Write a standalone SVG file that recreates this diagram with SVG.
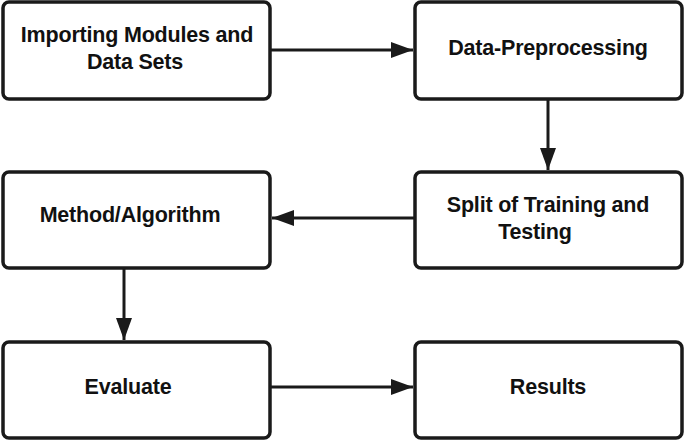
<svg xmlns="http://www.w3.org/2000/svg" width="685" height="441" viewBox="0 0 685 441">
<style>
.b{fill:#fff;stroke:#1a1a1a;stroke-width:3.5}
.t{font-family:"Liberation Sans",Arial,sans-serif;font-weight:bold;font-size:21.5px;fill:#111;text-anchor:middle;letter-spacing:-0.2px}
.c{stroke:#1a1a1a;stroke-width:3;fill:none}
</style>
<defs><marker id="a" markerWidth="24" markerHeight="18" refX="22" refY="8" orient="auto" markerUnits="userSpaceOnUse" viewBox="0 0 24 16"><path d="M0,0L22,8L0,16z" fill="#1a1a1a"/></marker></defs>
<rect width="685" height="441" fill="#fff"/>
<g id="n1"><rect class="b" x="3" y="2" width="267" height="97" rx="6"/><text class="t" x="137" y="42">Importing Modules and</text><text class="t" x="135" y="69">Data Sets</text></g>
<g id="n2"><rect class="b" x="415" y="2" width="267" height="97" rx="6"/><text class="t" x="548" y="55">Data-Preprocessing</text></g>
<g id="n3"><rect class="b" x="415" y="172" width="267" height="96" rx="6"/><text class="t" x="548" y="212">Split of Training and</text><text class="t" x="535" y="239">Testing</text></g>
<g id="n4"><rect class="b" x="3" y="172" width="267" height="96" rx="6"/><text class="t" x="130" y="222">Method/Algorithm</text></g>
<g id="n5"><rect class="b" x="3" y="342" width="267" height="96" rx="6"/><text class="t" x="128" y="394">Evaluate</text></g>
<g id="n6"><rect class="b" x="415" y="342" width="267" height="96" rx="6"/><text class="t" x="548" y="394">Results</text></g>
<g id="connectors">
<line class="c" x1="271" y1="50" x2="413" y2="50" marker-end="url(#a)"/>
<line class="c" x1="548" y1="100" x2="548" y2="170" marker-end="url(#a)"/>
<line class="c" x1="414" y1="218" x2="272" y2="218" marker-end="url(#a)"/>
<line class="c" x1="124" y1="269" x2="124" y2="340" marker-end="url(#a)"/>
<line class="c" x1="271" y1="387" x2="413" y2="387" marker-end="url(#a)"/>
</g>
</svg>
